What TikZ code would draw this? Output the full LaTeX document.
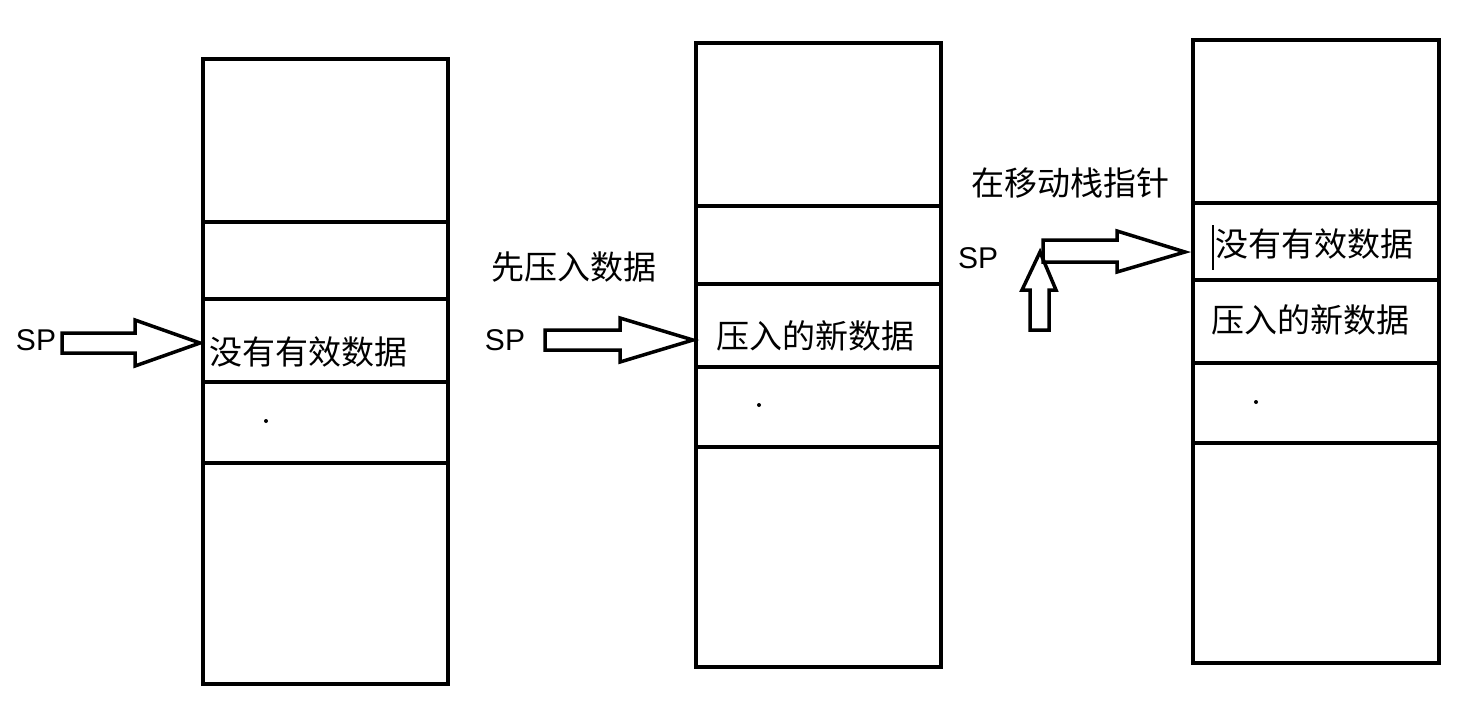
\documentclass[tikz,border=0pt]{standalone}
\usepackage{fontspec}
\setmainfont{Liberation Sans}
\newfontfamily\cjk{Noto Sans CJK SC}
\begin{document}
\begin{tikzpicture}[x=1pt,y=-1pt,line width=3.5pt,
  lbl/.style={font=\cjk\fontsize{33}{36}\selectfont,inner sep=0pt},
  sp/.style={font=\fontsize{30}{32}\selectfont,inner sep=0pt},
  blk/.style={draw=black,line width=3.5pt,line join=miter}]
\useasboundingbox (0,0) rectangle (1469,721);
% stacks
\draw (203,59) rectangle (448,684);
\foreach \y in {222,299,382,463} \draw (203,\y) -- (448,\y);
\draw (696,43) rectangle (941,667);
\foreach \y in {206,284,367,447} \draw (696,\y) -- (941,\y);
\draw (1193,40) rectangle (1439,663);
\foreach \y in {203,280,363,443} \draw (1193,\y) -- (1439,\y);
% dots
\fill (266,421) circle (2);
\fill (759,405) circle (2);
\fill (1256,402) circle (2);
% texts
\node[lbl] (t1) at (308,352) {没有有效数据};
\node[lbl] (t2) at (815,336) {压入的新数据};
\node[lbl] (t3) at (1314,244) {没有有效数据};
\node[lbl] (t4) at (1310,320) {压入的新数据};
\node[lbl] (c1) at (574,267) {先压入数据};
\node[lbl] (c2) at (1070,183) {在移动栈指针};
\node[sp] (s1) at (36,340) {SP};
\node[sp] (s2) at (505,340) {SP};
\node[sp] (s3) at (978,258) {SP};
\draw[line width=1.5pt] (1213,225) -- (1213,270);
% arrows
\draw[blk] (62,333) -- (135,333) -- (135,320) -- (200,343) -- (135,366) -- (135,353) -- (62,353) -- cycle;
\draw[blk] (545,330) -- (620,330) -- (620,318) -- (693,340) -- (620,362) -- (620,350) -- (545,350) -- cycle;
\draw[blk] (1030,330) -- (1030,290) -- (1022,290) -- (1040,252) -- (1056,290) -- (1049,290) -- (1049,330) -- cycle;
\draw[blk] (1043,262) -- (1043,240) -- (1117,240) -- (1117,231) -- (1185,252) -- (1117,272) -- (1117,262) -- cycle;
\end{tikzpicture}
\end{document}
